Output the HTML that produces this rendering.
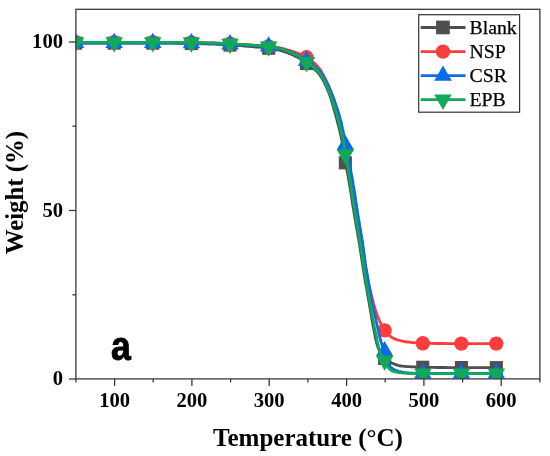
<!DOCTYPE html>
<html><head><meta charset="utf-8"><title>TGA</title>
<style>
html,body{margin:0;padding:0;background:#fff;}
body{width:550px;height:456px;overflow:hidden;}
svg{display:block;}
.tk{font-family:"Liberation Serif",serif;font-weight:bold;font-size:20.6px;fill:#000;}
.ti{font-family:"Liberation Serif",serif;font-weight:bold;font-size:25px;fill:#000;}
.lg{font-family:"Liberation Serif",serif;font-size:19.8px;fill:#000;stroke:#000;stroke-width:0.25px;}
.pa{font-family:"Liberation Sans",sans-serif;font-weight:bold;font-size:41.5px;fill:#000;stroke:#000;stroke-width:0.9px;}
</style></head><body>
<svg width="550" height="456" viewBox="0 0 550 456">
<defs><clipPath id="clip"><rect x="75.9" y="9.3" width="464.0" height="369.6"/></clipPath></defs>
<rect width="550" height="456" fill="#fff"/>
<g clip-path="url(#clip)">
<path d="M76.0 43.1 L77.7 43.1 L79.3 43.1 L81.0 43.1 L82.6 43.1 L84.3 43.1 L85.9 43.1 L87.6 43.1 L89.2 43.1 L90.9 43.1 L92.5 43.1 L94.2 43.1 L95.8 43.1 L97.5 43.1 L99.1 43.1 L100.8 43.1 L102.4 43.1 L104.1 43.1 L105.7 43.1 L107.4 43.1 L109.0 43.1 L110.7 43.1 L112.3 43.1 L114.0 43.1 L115.6 43.1 L117.3 43.1 L118.9 43.1 L120.6 43.1 L122.2 43.1 L123.9 43.1 L125.5 43.1 L127.2 43.1 L128.8 43.1 L130.5 43.1 L132.1 43.1 L133.8 43.1 L135.4 43.1 L137.1 43.1 L138.7 43.1 L140.4 43.1 L142.0 43.1 L143.7 43.1 L145.3 43.1 L147.0 43.1 L148.6 43.1 L150.3 43.1 L151.9 43.1 L153.6 43.1 L155.2 43.1 L156.9 43.1 L158.5 43.1 L160.2 43.1 L161.8 43.1 L163.5 43.1 L165.1 43.1 L166.8 43.2 L168.4 43.2 L170.1 43.2 L171.7 43.2 L173.4 43.2 L175.0 43.3 L176.7 43.3 L178.3 43.3 L180.0 43.3 L181.6 43.3 L183.3 43.4 L184.9 43.4 L186.6 43.4 L188.2 43.4 L189.9 43.5 L191.5 43.5 L193.2 43.5 L194.8 43.6 L196.5 43.6 L198.1 43.6 L199.8 43.7 L201.4 43.8 L203.1 43.8 L204.7 43.9 L206.4 43.9 L208.0 44.0 L209.7 44.0 L211.3 44.1 L212.9 44.2 L214.6 44.2 L216.2 44.3 L217.9 44.4 L219.5 44.4 L221.2 44.5 L222.8 44.6 L224.5 44.7 L226.1 44.8 L227.8 44.9 L229.4 44.9 L231.1 45.0 L232.7 45.1 L234.4 45.3 L236.0 45.4 L237.7 45.5 L239.3 45.6 L241.0 45.7 L242.6 45.9 L244.2 46.0 L245.9 46.2 L247.5 46.3 L249.2 46.4 L250.8 46.6 L252.5 46.7 L254.1 46.8 L255.8 47.0 L257.4 47.1 L259.1 47.2 L260.7 47.3 L262.3 47.5 L264.0 47.6 L265.6 47.8 L267.3 48.0 L268.9 48.2 L270.5 48.4 L272.2 48.7 L273.8 48.9 L275.4 49.3 L277.0 49.6 L278.7 50.0 L280.2 50.4 L281.8 50.8 L283.4 51.3 L285.0 51.8 L286.5 52.4 L288.1 53.0 L289.6 53.6 L291.1 54.3 L292.6 54.9 L294.1 55.6 L295.6 56.4 L297.1 57.1 L298.5 57.9 L299.9 58.8 L301.3 59.6 L302.7 60.6 L304.1 61.5 L305.4 62.5 L306.7 63.5 L308.1 64.4 L309.4 65.4 L310.8 66.4 L312.1 67.4 L313.4 68.4 L314.7 69.5 L315.9 70.6 L317.1 71.7 L318.1 72.9 L319.2 74.2 L320.1 75.5 L321.1 76.9 L321.9 78.3 L322.8 79.7 L323.6 81.2 L324.4 82.7 L325.1 84.1 L325.8 85.6 L326.5 87.1 L327.2 88.6 L327.8 90.2 L328.4 91.7 L329.0 93.2 L329.6 94.8 L330.1 96.3 L330.7 97.9 L331.2 99.5 L331.6 101.1 L332.1 102.6 L332.6 104.2 L333.0 105.8 L333.5 107.4 L333.9 109.0 L334.4 110.6 L334.8 112.2 L335.3 113.8 L335.7 115.4 L336.1 116.9 L336.6 118.5 L337.0 120.1 L337.4 121.7 L337.8 123.3 L338.2 124.9 L338.7 126.5 L339.1 128.1 L339.5 129.7 L339.9 131.3 L340.2 132.9 L340.6 134.5 L341.0 136.1 L341.3 137.8 L341.6 139.4 L342.0 141.0 L342.3 142.6 L342.6 144.2 L342.9 145.9 L343.1 147.5 L343.4 149.1 L343.7 150.7 L344.0 152.4 L344.3 154.0 L344.5 155.6 L344.8 157.3 L345.0 158.9 L345.3 160.5 L345.6 162.1 L345.8 163.8 L346.1 165.4 L346.4 167.0 L346.7 168.6 L347.0 170.3 L347.3 171.9 L347.6 173.5 L347.9 175.1 L348.2 176.8 L348.5 178.4 L348.8 180.0 L349.1 181.6 L349.3 183.3 L349.6 184.9 L349.9 186.5 L350.2 188.1 L350.4 189.8 L350.7 191.4 L350.9 193.0 L351.2 194.7 L351.4 196.3 L351.7 197.9 L351.9 199.6 L352.2 201.2 L352.4 202.8 L352.7 204.4 L352.9 206.1 L353.2 207.7 L353.5 209.3 L353.7 211.0 L354.0 212.6 L354.3 214.2 L354.5 215.9 L354.8 217.5 L355.1 219.1 L355.4 220.7 L355.6 222.4 L355.9 224.0 L356.2 225.6 L356.5 227.2 L356.8 228.9 L357.1 230.5 L357.4 232.1 L357.7 233.7 L357.9 235.4 L358.2 237.0 L358.5 238.6 L358.8 240.2 L359.1 241.9 L359.3 243.5 L359.6 245.1 L359.9 246.7 L360.1 248.4 L360.4 250.0 L360.6 251.6 L360.9 253.3 L361.1 254.9 L361.4 256.5 L361.6 258.2 L361.9 259.8 L362.1 261.4 L362.4 263.1 L362.6 264.7 L362.9 266.3 L363.1 268.0 L363.4 269.6 L363.6 271.2 L363.9 272.8 L364.1 274.5 L364.4 276.1 L364.7 277.7 L365.0 279.4 L365.2 281.0 L365.5 282.6 L365.8 284.2 L366.1 285.9 L366.4 287.5 L366.7 289.1 L367.0 290.7 L367.3 292.4 L367.5 294.0 L367.8 295.6 L368.1 297.2 L368.4 298.9 L368.7 300.5 L369.0 302.1 L369.3 303.7 L369.5 305.4 L369.8 307.0 L370.1 308.6 L370.4 310.2 L370.6 311.9 L370.9 313.5 L371.2 315.1 L371.5 316.8 L371.7 318.4 L372.0 320.0 L372.3 321.6 L372.6 323.2 L372.9 324.9 L373.2 326.5 L373.5 328.1 L373.9 329.7 L374.2 331.4 L374.5 333.0 L374.8 334.6 L375.1 336.3 L375.4 337.9 L375.8 339.5 L376.2 341.1 L376.6 342.7 L377.0 344.3 L377.5 345.8 L378.0 347.4 L378.6 348.9 L379.3 350.5 L380.0 352.0 L380.8 353.4 L381.7 354.8 L382.6 356.1 L383.8 357.4 L385.0 358.5 L386.3 359.5 L387.6 360.5 L389.0 361.4 L390.5 362.2 L391.9 362.9 L393.4 363.6 L395.0 364.2 L396.5 364.9 L398.1 365.4 L399.7 365.8 L401.3 366.0 L402.9 366.2 L404.6 366.3 L406.2 366.5 L407.9 366.6 L409.5 366.7 L411.2 366.8 L412.8 366.8 L414.5 366.9 L416.1 367.0 L417.8 367.1 L419.4 367.2 L421.1 367.2 L422.7 367.3 L424.4 367.3 L426.0 367.3 L427.7 367.4 L429.3 367.4 L431.0 367.4 L432.6 367.4 L434.3 367.4 L435.9 367.5 L437.6 367.5 L439.2 367.5 L440.9 367.5 L442.5 367.5 L444.2 367.5 L445.8 367.5 L447.5 367.6 L449.1 367.6 L450.8 367.6 L452.4 367.6 L454.1 367.6 L455.7 367.6 L457.4 367.6 L459.0 367.6 L460.7 367.6 L462.3 367.6 L464.0 367.6 L465.6 367.6 L467.3 367.6 L468.9 367.6 L470.6 367.6 L472.2 367.6 L473.9 367.6 L475.5 367.6 L477.2 367.6 L478.8 367.6 L480.5 367.6 L482.1 367.6 L483.8 367.6 L485.4 367.6 L487.1 367.6 L488.7 367.6 L490.4 367.6 L492.0 367.6 L493.7 367.6 L495.3 367.6 L497.0 367.6" fill="none" stroke="#4F4F4F" stroke-width="2.8" stroke-linejoin="round"/>
<rect x="69.0" y="36.6" width="13.1" height="13.1" fill="#4F4F4F"/>
<rect x="107.6" y="36.6" width="13.1" height="13.1" fill="#4F4F4F"/>
<rect x="146.2" y="36.6" width="13.1" height="13.1" fill="#4F4F4F"/>
<rect x="184.8" y="37.0" width="13.1" height="13.1" fill="#4F4F4F"/>
<rect x="223.4" y="38.5" width="13.1" height="13.1" fill="#4F4F4F"/>
<rect x="262.1" y="41.7" width="13.1" height="13.1" fill="#4F4F4F"/>
<rect x="299.9" y="57.0" width="13.1" height="13.1" fill="#4F4F4F"/>
<rect x="338.8" y="156.3" width="13.1" height="13.1" fill="#4F4F4F"/>
<rect x="378.1" y="351.9" width="13.1" height="13.1" fill="#4F4F4F"/>
<rect x="416.2" y="360.7" width="13.1" height="13.1" fill="#4F4F4F"/>
<rect x="454.9" y="361.0" width="13.1" height="13.1" fill="#4F4F4F"/>
<rect x="489.8" y="361.1" width="13.1" height="13.1" fill="#4F4F4F"/>
<path d="M76.0 42.3 L77.6 42.3 L79.2 42.3 L80.8 42.3 L82.4 42.3 L84.0 42.3 L85.6 42.3 L87.2 42.3 L88.8 42.3 L90.4 42.3 L92.0 42.3 L93.6 42.3 L95.2 42.3 L96.7 42.3 L98.3 42.3 L99.9 42.3 L101.5 42.3 L103.1 42.3 L104.7 42.3 L106.3 42.3 L107.9 42.3 L109.5 42.3 L111.1 42.3 L112.7 42.3 L114.3 42.3 L115.9 42.3 L117.5 42.3 L119.1 42.3 L120.7 42.3 L122.3 42.3 L123.9 42.3 L125.5 42.3 L127.1 42.3 L128.7 42.3 L130.3 42.3 L131.9 42.3 L133.5 42.3 L135.1 42.3 L136.7 42.3 L138.2 42.3 L139.8 42.3 L141.4 42.3 L143.0 42.3 L144.6 42.3 L146.2 42.3 L147.8 42.3 L149.4 42.3 L151.0 42.3 L152.6 42.3 L154.2 42.3 L155.8 42.3 L157.4 42.3 L159.0 42.3 L160.6 42.3 L162.2 42.3 L163.8 42.3 L165.4 42.3 L167.0 42.3 L168.6 42.3 L170.2 42.3 L171.8 42.4 L173.4 42.4 L175.0 42.4 L176.6 42.4 L178.1 42.4 L179.7 42.4 L181.3 42.4 L182.9 42.4 L184.5 42.4 L186.1 42.5 L187.7 42.5 L189.3 42.5 L190.9 42.5 L192.5 42.5 L194.1 42.5 L195.7 42.5 L197.3 42.6 L198.9 42.6 L200.5 42.6 L202.1 42.7 L203.7 42.7 L205.3 42.7 L206.9 42.8 L208.5 42.8 L210.1 42.9 L211.7 42.9 L213.3 43.0 L214.9 43.0 L216.4 43.1 L218.0 43.2 L219.6 43.2 L221.2 43.3 L222.8 43.4 L224.4 43.5 L226.0 43.6 L227.6 43.7 L229.2 43.7 L230.8 43.8 L232.4 43.9 L234.0 44.0 L235.6 44.1 L237.2 44.2 L238.8 44.3 L240.4 44.4 L241.9 44.5 L243.5 44.6 L245.1 44.7 L246.7 44.8 L248.3 44.9 L249.9 45.0 L251.5 45.1 L253.1 45.2 L254.7 45.3 L256.3 45.4 L257.9 45.5 L259.5 45.6 L261.1 45.7 L262.7 45.8 L264.2 46.0 L265.8 46.1 L267.4 46.2 L269.0 46.4 L270.6 46.6 L272.2 46.8 L273.8 47.0 L275.4 47.2 L276.9 47.5 L278.5 47.7 L280.1 48.0 L281.6 48.3 L283.2 48.7 L284.7 49.1 L286.3 49.5 L287.8 50.0 L289.3 50.4 L290.9 50.9 L292.4 51.3 L293.9 51.8 L295.4 52.4 L296.9 52.9 L298.4 53.5 L299.9 54.1 L301.4 54.7 L302.9 55.3 L304.4 55.9 L305.8 56.7 L307.1 57.4 L308.4 58.3 L309.7 59.2 L311.0 60.2 L312.3 61.2 L313.5 62.3 L314.7 63.4 L315.9 64.6 L317.0 65.7 L318.0 66.9 L319.0 68.1 L320.0 69.4 L320.9 70.6 L321.7 72.0 L322.5 73.4 L323.3 74.8 L324.0 76.2 L324.8 77.7 L325.5 79.1 L326.2 80.6 L326.8 82.0 L327.5 83.4 L328.2 84.9 L328.9 86.4 L329.5 87.8 L330.1 89.3 L330.8 90.8 L331.3 92.2 L331.9 93.7 L332.5 95.2 L333.0 96.7 L333.5 98.2 L334.0 99.8 L334.5 101.3 L334.9 102.8 L335.4 104.3 L335.9 105.9 L336.3 107.4 L336.7 109.0 L337.1 110.5 L337.5 112.0 L337.9 113.6 L338.3 115.1 L338.7 116.7 L339.0 118.2 L339.4 119.8 L339.8 121.4 L340.1 122.9 L340.5 124.5 L340.9 126.0 L341.2 127.6 L341.6 129.1 L342.0 130.7 L342.3 132.2 L342.7 133.8 L343.0 135.3 L343.3 136.9 L343.6 138.5 L343.9 140.0 L344.2 141.6 L344.5 143.2 L344.8 144.7 L345.1 146.3 L345.4 147.9 L345.7 149.5 L346.0 151.0 L346.3 152.6 L346.6 154.2 L346.8 155.7 L347.1 157.3 L347.4 158.9 L347.7 160.5 L348.0 162.0 L348.3 163.6 L348.5 165.2 L348.8 166.7 L349.1 168.3 L349.4 169.9 L349.6 171.5 L349.9 173.0 L350.2 174.6 L350.5 176.2 L350.7 177.7 L351.0 179.3 L351.3 180.9 L351.5 182.5 L351.8 184.0 L352.0 185.6 L352.3 187.2 L352.5 188.8 L352.8 190.3 L353.0 191.9 L353.3 193.5 L353.5 195.1 L353.7 196.7 L354.0 198.2 L354.2 199.8 L354.5 201.4 L354.7 203.0 L354.9 204.5 L355.2 206.1 L355.4 207.7 L355.7 209.3 L355.9 210.9 L356.2 212.4 L356.4 214.0 L356.7 215.6 L356.9 217.2 L357.2 218.7 L357.5 220.3 L357.7 221.9 L358.0 223.5 L358.3 225.0 L358.5 226.6 L358.8 228.2 L359.1 229.7 L359.3 231.3 L359.6 232.9 L359.9 234.5 L360.2 236.0 L360.4 237.6 L360.7 239.2 L361.0 240.8 L361.2 242.3 L361.5 243.9 L361.8 245.5 L362.0 247.1 L362.3 248.6 L362.5 250.2 L362.8 251.8 L363.0 253.4 L363.3 254.9 L363.5 256.5 L363.8 258.1 L364.0 259.7 L364.3 261.3 L364.5 262.8 L364.8 264.4 L365.0 266.0 L365.3 267.6 L365.6 269.1 L365.8 270.7 L366.1 272.3 L366.4 273.8 L366.7 275.4 L367.0 277.0 L367.4 278.5 L367.7 280.1 L368.1 281.6 L368.4 283.2 L368.8 284.7 L369.2 286.3 L369.6 287.8 L370.0 289.4 L370.4 290.9 L370.8 292.5 L371.2 294.0 L371.5 295.6 L371.9 297.1 L372.3 298.7 L372.7 300.2 L373.1 301.8 L373.5 303.3 L374.0 304.9 L374.4 306.4 L374.8 307.9 L375.3 309.5 L375.8 311.0 L376.3 312.5 L376.8 314.0 L377.3 315.5 L377.9 317.0 L378.5 318.5 L379.2 319.9 L379.8 321.4 L380.5 322.8 L381.2 324.2 L382.0 325.7 L382.8 327.1 L383.6 328.4 L384.5 329.8 L385.5 331.0 L386.5 332.3 L387.6 333.5 L388.7 334.7 L389.9 335.9 L391.1 336.9 L392.4 337.7 L393.7 338.4 L395.2 339.0 L396.7 339.6 L398.2 340.1 L399.8 340.5 L401.4 340.9 L402.9 341.2 L404.5 341.5 L406.1 341.8 L407.7 342.0 L409.2 342.2 L410.8 342.4 L412.4 342.6 L414.0 342.7 L415.6 342.9 L417.2 343.0 L418.8 343.1 L420.4 343.2 L422.0 343.3 L423.6 343.3 L425.2 343.3 L426.8 343.4 L428.4 343.4 L430.0 343.4 L431.6 343.4 L433.2 343.4 L434.7 343.5 L436.3 343.5 L437.9 343.5 L439.5 343.5 L441.1 343.5 L442.7 343.5 L444.3 343.5 L445.9 343.6 L447.5 343.6 L449.1 343.6 L450.7 343.6 L452.3 343.6 L453.9 343.6 L455.5 343.6 L457.1 343.6 L458.7 343.6 L460.3 343.6 L461.9 343.6 L463.5 343.6 L465.1 343.6 L466.7 343.6 L468.3 343.6 L469.9 343.6 L471.5 343.6 L473.1 343.6 L474.7 343.6 L476.3 343.6 L477.8 343.6 L479.4 343.6 L481.0 343.6 L482.6 343.6 L484.2 343.6 L485.8 343.6 L487.4 343.6 L489.0 343.6 L490.6 343.6 L492.2 343.6 L493.8 343.6 L495.4 343.6 L497.0 343.6" fill="none" stroke="#FB3D3D" stroke-width="2.8" stroke-linejoin="round"/>
<circle cx="75.6" cy="42.3" r="7.2" fill="#FB3D3D"/>
<circle cx="114.2" cy="42.3" r="7.2" fill="#FB3D3D"/>
<circle cx="152.8" cy="42.3" r="7.2" fill="#FB3D3D"/>
<circle cx="191.4" cy="42.5" r="7.2" fill="#FB3D3D"/>
<circle cx="230.0" cy="43.8" r="7.2" fill="#FB3D3D"/>
<circle cx="268.6" cy="46.4" r="7.2" fill="#FB3D3D"/>
<circle cx="306.5" cy="57.3" r="7.2" fill="#FB3D3D"/>
<circle cx="345.3" cy="149.5" r="7.2" fill="#FB3D3D"/>
<circle cx="384.6" cy="330.4" r="7.2" fill="#FB3D3D"/>
<circle cx="422.8" cy="343.3" r="7.2" fill="#FB3D3D"/>
<circle cx="461.4" cy="343.6" r="7.2" fill="#FB3D3D"/>
<circle cx="496.3" cy="343.6" r="7.2" fill="#FB3D3D"/>
<path d="M76.0 43.0 L77.7 43.0 L79.3 43.0 L81.0 43.0 L82.7 43.0 L84.3 43.0 L86.0 43.0 L87.7 43.0 L89.3 43.0 L91.0 43.0 L92.6 43.0 L94.3 43.0 L96.0 43.0 L97.6 43.0 L99.3 43.0 L101.0 43.0 L102.6 43.0 L104.3 43.0 L106.0 43.0 L107.6 43.0 L109.3 43.0 L111.0 43.0 L112.6 43.0 L114.3 43.0 L115.9 43.0 L117.6 43.0 L119.3 43.0 L120.9 43.0 L122.6 43.0 L124.3 43.0 L125.9 43.0 L127.6 43.0 L129.3 43.0 L130.9 43.0 L132.6 43.0 L134.3 43.0 L135.9 43.0 L137.6 43.0 L139.3 43.0 L140.9 43.0 L142.6 43.0 L144.2 43.0 L145.9 43.0 L147.6 43.0 L149.2 43.0 L150.9 43.0 L152.6 43.0 L154.2 43.0 L155.9 43.0 L157.6 43.0 L159.2 43.0 L160.9 43.0 L162.6 43.0 L164.2 43.0 L165.9 43.0 L167.5 43.0 L169.2 43.0 L170.9 43.0 L172.5 43.0 L174.2 43.0 L175.9 43.0 L177.5 43.0 L179.2 43.0 L180.9 43.1 L182.5 43.1 L184.2 43.1 L185.9 43.1 L187.5 43.1 L189.2 43.1 L190.8 43.1 L192.5 43.2 L194.2 43.2 L195.8 43.2 L197.5 43.2 L199.2 43.3 L200.8 43.3 L202.5 43.4 L204.2 43.4 L205.8 43.5 L207.5 43.5 L209.2 43.5 L210.8 43.6 L212.5 43.6 L214.1 43.7 L215.8 43.7 L217.5 43.8 L219.1 43.9 L220.8 43.9 L222.5 44.0 L224.1 44.0 L225.8 44.1 L227.5 44.2 L229.1 44.2 L230.8 44.3 L232.4 44.4 L234.1 44.5 L235.8 44.5 L237.4 44.6 L239.1 44.7 L240.8 44.8 L242.4 44.9 L244.1 45.0 L245.7 45.1 L247.4 45.2 L249.1 45.2 L250.7 45.3 L252.4 45.4 L254.1 45.5 L255.7 45.6 L257.4 45.7 L259.1 45.8 L260.7 45.9 L262.4 46.0 L264.0 46.1 L265.7 46.2 L267.3 46.3 L269.0 46.5 L270.6 46.7 L272.3 46.9 L273.9 47.2 L275.6 47.5 L277.2 47.9 L278.8 48.2 L280.5 48.6 L282.1 49.0 L283.7 49.5 L285.3 50.0 L286.8 50.5 L288.4 51.1 L290.0 51.7 L291.5 52.3 L293.1 52.9 L294.6 53.6 L296.1 54.3 L297.6 55.0 L299.1 55.7 L300.5 56.6 L301.9 57.4 L303.3 58.3 L304.7 59.3 L306.1 60.2 L307.5 61.2 L308.8 62.1 L310.2 63.1 L311.6 64.1 L313.0 65.1 L314.4 66.1 L315.7 67.1 L316.9 68.2 L318.1 69.3 L319.2 70.5 L320.2 71.7 L321.2 73.1 L322.1 74.4 L323.0 75.9 L323.9 77.3 L324.7 78.8 L325.5 80.3 L326.3 81.7 L327.1 83.2 L327.8 84.7 L328.5 86.2 L329.2 87.7 L329.8 89.3 L330.5 90.8 L331.1 92.4 L331.7 93.9 L332.4 95.5 L333.0 97.0 L333.6 98.6 L334.2 100.1 L334.7 101.7 L335.3 103.2 L335.9 104.8 L336.4 106.4 L336.9 108.0 L337.5 109.5 L338.0 111.1 L338.5 112.7 L339.0 114.3 L339.4 115.9 L339.9 117.5 L340.3 119.1 L340.8 120.7 L341.2 122.3 L341.6 123.9 L341.9 125.6 L342.3 127.2 L342.6 128.8 L343.0 130.4 L343.3 132.1 L343.6 133.7 L343.9 135.4 L344.2 137.0 L344.5 138.6 L344.8 140.3 L345.1 141.9 L345.4 143.5 L345.7 145.2 L346.1 146.8 L346.4 148.4 L346.7 150.1 L347.0 151.7 L347.3 153.3 L347.7 155.0 L348.0 156.6 L348.3 158.2 L348.6 159.9 L349.0 161.5 L349.3 163.1 L349.6 164.8 L349.9 166.4 L350.2 168.0 L350.5 169.7 L350.9 171.3 L351.2 173.0 L351.5 174.6 L351.8 176.2 L352.1 177.9 L352.4 179.5 L352.7 181.1 L353.0 182.8 L353.2 184.4 L353.5 186.1 L353.8 187.7 L354.0 189.3 L354.3 191.0 L354.6 192.6 L354.8 194.3 L355.1 195.9 L355.3 197.6 L355.6 199.2 L355.8 200.9 L356.1 202.5 L356.3 204.2 L356.5 205.8 L356.8 207.4 L357.0 209.1 L357.3 210.7 L357.6 212.4 L357.8 214.0 L358.1 215.7 L358.4 217.3 L358.6 219.0 L358.9 220.6 L359.2 222.2 L359.5 223.9 L359.7 225.5 L360.0 227.2 L360.3 228.8 L360.6 230.4 L360.8 232.1 L361.1 233.7 L361.4 235.4 L361.7 237.0 L361.9 238.7 L362.2 240.3 L362.5 241.9 L362.7 243.6 L362.9 245.2 L363.2 246.9 L363.4 248.5 L363.6 250.2 L363.8 251.8 L364.0 253.5 L364.2 255.1 L364.5 256.8 L364.7 258.4 L364.9 260.1 L365.2 261.7 L365.4 263.4 L365.7 265.0 L365.9 266.7 L366.2 268.3 L366.5 269.9 L366.7 271.6 L367.0 273.2 L367.3 274.9 L367.6 276.5 L367.9 278.2 L368.2 279.8 L368.4 281.4 L368.7 283.1 L369.0 284.7 L369.3 286.4 L369.6 288.0 L369.9 289.6 L370.2 291.3 L370.5 292.9 L370.7 294.6 L371.0 296.2 L371.3 297.8 L371.6 299.5 L371.9 301.1 L372.2 302.7 L372.6 304.4 L372.9 306.0 L373.2 307.6 L373.6 309.3 L373.9 310.9 L374.3 312.5 L374.7 314.1 L375.0 315.8 L375.4 317.4 L375.8 319.0 L376.1 320.6 L376.5 322.3 L376.8 323.9 L377.2 325.5 L377.5 327.1 L377.9 328.8 L378.2 330.4 L378.6 332.0 L378.9 333.7 L379.3 335.3 L379.7 336.9 L380.1 338.5 L380.6 340.1 L381.0 341.7 L381.5 343.3 L382.1 344.9 L382.7 346.4 L383.4 347.9 L384.2 349.4 L384.9 350.9 L385.4 352.5 L385.8 354.1 L386.2 355.7 L386.5 357.3 L387.0 358.9 L387.5 360.6 L388.0 362.3 L388.6 363.9 L389.2 365.3 L390.1 366.5 L391.3 367.7 L392.7 368.7 L394.2 369.6 L395.8 370.3 L397.3 370.8 L398.8 371.3 L400.4 371.7 L402.1 372.1 L403.7 372.4 L405.4 372.6 L407.1 372.8 L408.8 373.0 L410.4 373.1 L412.1 373.1 L413.8 373.2 L415.4 373.3 L417.1 373.3 L418.8 373.3 L420.4 373.4 L422.1 373.4 L423.8 373.4 L425.4 373.4 L427.1 373.4 L428.8 373.4 L430.4 373.4 L432.1 373.4 L433.7 373.4 L435.4 373.5 L437.1 373.5 L438.7 373.5 L440.4 373.5 L442.1 373.5 L443.7 373.5 L445.4 373.5 L447.1 373.5 L448.7 373.5 L450.4 373.5 L452.1 373.5 L453.7 373.5 L455.4 373.5 L457.1 373.5 L458.7 373.5 L460.4 373.5 L462.0 373.5 L463.7 373.5 L465.4 373.5 L467.0 373.5 L468.7 373.5 L470.4 373.5 L472.0 373.5 L473.7 373.5 L475.4 373.5 L477.0 373.5 L478.7 373.5 L480.4 373.5 L482.0 373.5 L483.7 373.5 L485.3 373.5 L487.0 373.5 L488.7 373.5 L490.3 373.5 L492.0 373.5 L493.7 373.5 L495.3 373.5 L497.0 373.5" fill="none" stroke="#0C6CE8" stroke-width="2.8" stroke-linejoin="round"/>
<path d="M75.6 32.8 L84.3 48.1 L66.8 48.1 Z" fill="#0C6CE8"/>
<path d="M114.2 32.8 L122.9 48.1 L105.4 48.1 Z" fill="#0C6CE8"/>
<path d="M152.8 32.8 L161.5 48.1 L144.0 48.1 Z" fill="#0C6CE8"/>
<path d="M191.4 33.0 L200.2 48.3 L182.7 48.3 Z" fill="#0C6CE8"/>
<path d="M230.0 34.1 L238.8 49.4 L221.2 49.4 Z" fill="#0C6CE8"/>
<path d="M268.6 36.3 L277.4 51.6 L259.9 51.6 Z" fill="#0C6CE8"/>
<path d="M306.5 50.6 L315.2 65.9 L297.8 65.9 Z" fill="#0C6CE8"/>
<path d="M345.3 134.8 L354.1 150.1 L336.6 150.1 Z" fill="#0C6CE8"/>
<path d="M384.6 341.0 L393.4 356.3 L375.9 356.3 Z" fill="#0C6CE8"/>
<path d="M422.8 363.2 L431.6 378.5 L414.1 378.5 Z" fill="#0C6CE8"/>
<path d="M461.4 363.3 L470.2 378.6 L452.7 378.6 Z" fill="#0C6CE8"/>
<path d="M496.3 363.3 L505.1 378.6 L487.6 378.6 Z" fill="#0C6CE8"/>
<path d="M76.0 42.3 L77.7 42.3 L79.3 42.3 L81.0 42.3 L82.7 42.3 L84.3 42.3 L86.0 42.3 L87.7 42.3 L89.4 42.3 L91.0 42.3 L92.7 42.3 L94.4 42.3 L96.0 42.3 L97.7 42.3 L99.4 42.3 L101.0 42.3 L102.7 42.3 L104.4 42.3 L106.0 42.3 L107.7 42.3 L109.4 42.3 L111.0 42.3 L112.7 42.3 L114.4 42.3 L116.1 42.3 L117.7 42.3 L119.4 42.3 L121.1 42.3 L122.7 42.3 L124.4 42.3 L126.1 42.3 L127.7 42.3 L129.4 42.3 L131.1 42.3 L132.7 42.3 L134.4 42.3 L136.1 42.3 L137.8 42.3 L139.4 42.3 L141.1 42.3 L142.8 42.3 L144.4 42.3 L146.1 42.3 L147.8 42.3 L149.4 42.3 L151.1 42.3 L152.8 42.3 L154.4 42.3 L156.1 42.3 L157.8 42.3 L159.5 42.3 L161.1 42.3 L162.8 42.3 L164.5 42.3 L166.1 42.3 L167.8 42.3 L169.5 42.3 L171.1 42.3 L172.8 42.4 L174.5 42.4 L176.1 42.4 L177.8 42.4 L179.5 42.4 L181.1 42.4 L182.8 42.4 L184.5 42.4 L186.2 42.5 L187.8 42.5 L189.5 42.5 L191.2 42.5 L192.8 42.5 L194.5 42.5 L196.2 42.6 L197.8 42.6 L199.5 42.6 L201.2 42.6 L202.8 42.7 L204.5 42.7 L206.2 42.8 L207.8 42.8 L209.5 42.9 L211.2 42.9 L212.9 43.0 L214.5 43.0 L216.2 43.1 L217.9 43.2 L219.5 43.2 L221.2 43.3 L222.9 43.4 L224.5 43.5 L226.2 43.6 L227.9 43.7 L229.5 43.8 L231.2 43.8 L232.9 43.9 L234.5 44.0 L236.2 44.1 L237.9 44.2 L239.5 44.3 L241.2 44.4 L242.9 44.5 L244.5 44.6 L246.2 44.7 L247.9 44.9 L249.5 45.0 L251.2 45.1 L252.8 45.2 L254.5 45.3 L256.2 45.4 L257.9 45.6 L259.5 45.7 L261.2 45.8 L262.8 46.0 L264.5 46.1 L266.2 46.3 L267.8 46.5 L269.5 46.7 L271.1 46.9 L272.8 47.2 L274.4 47.5 L276.0 47.9 L277.7 48.2 L279.3 48.6 L280.9 49.0 L282.5 49.5 L284.1 50.0 L285.7 50.6 L287.3 51.1 L288.8 51.7 L290.4 52.3 L291.9 53.0 L293.4 53.7 L294.9 54.4 L296.4 55.2 L297.9 56.0 L299.3 56.8 L300.8 57.7 L302.2 58.6 L303.5 59.5 L304.9 60.5 L306.2 61.5 L307.6 62.5 L308.9 63.5 L310.3 64.5 L311.6 65.5 L313.0 66.6 L314.3 67.7 L315.5 68.8 L316.7 69.9 L317.8 71.1 L318.9 72.3 L319.9 73.6 L320.9 75.0 L321.8 76.4 L322.7 77.8 L323.5 79.3 L324.3 80.8 L325.1 82.3 L325.8 83.7 L326.5 85.3 L327.2 86.8 L327.8 88.3 L328.4 89.9 L329.0 91.5 L329.6 93.0 L330.2 94.6 L330.8 96.1 L331.4 97.7 L332.0 99.3 L332.5 100.9 L333.1 102.4 L333.6 104.0 L334.1 105.6 L334.6 107.2 L335.1 108.8 L335.6 110.4 L336.1 112.0 L336.5 113.6 L337.0 115.2 L337.4 116.8 L337.8 118.4 L338.3 120.0 L338.7 121.6 L339.1 123.3 L339.5 124.9 L340.0 126.5 L340.4 128.1 L340.8 129.7 L341.2 131.3 L341.6 133.0 L342.0 134.6 L342.4 136.2 L342.7 137.8 L343.0 139.5 L343.4 141.1 L343.7 142.8 L344.0 144.4 L344.3 146.0 L344.5 147.7 L344.8 149.3 L345.1 151.0 L345.4 152.6 L345.7 154.3 L345.9 155.9 L346.2 157.6 L346.5 159.2 L346.8 160.9 L347.1 162.5 L347.3 164.1 L347.6 165.8 L347.9 167.4 L348.2 169.1 L348.4 170.7 L348.7 172.4 L349.0 174.0 L349.2 175.7 L349.5 177.3 L349.8 179.0 L350.0 180.6 L350.3 182.3 L350.6 183.9 L350.8 185.6 L351.1 187.2 L351.3 188.9 L351.6 190.5 L351.8 192.2 L352.1 193.8 L352.3 195.5 L352.6 197.1 L352.8 198.8 L353.1 200.4 L353.3 202.1 L353.6 203.7 L353.9 205.4 L354.1 207.0 L354.4 208.7 L354.6 210.3 L354.9 212.0 L355.1 213.6 L355.4 215.3 L355.7 216.9 L356.0 218.5 L356.2 220.2 L356.5 221.8 L356.8 223.5 L357.1 225.1 L357.4 226.8 L357.7 228.4 L357.9 230.1 L358.2 231.7 L358.5 233.3 L358.8 235.0 L359.1 236.6 L359.4 238.3 L359.6 239.9 L359.9 241.6 L360.2 243.2 L360.5 244.9 L360.7 246.5 L361.0 248.2 L361.3 249.8 L361.5 251.5 L361.8 253.1 L362.0 254.8 L362.3 256.4 L362.5 258.1 L362.8 259.7 L363.0 261.4 L363.3 263.0 L363.5 264.7 L363.8 266.3 L364.0 268.0 L364.3 269.6 L364.5 271.3 L364.8 272.9 L365.1 274.6 L365.3 276.2 L365.6 277.8 L365.9 279.5 L366.2 281.1 L366.5 282.8 L366.7 284.4 L367.0 286.1 L367.3 287.7 L367.6 289.4 L367.9 291.0 L368.2 292.6 L368.5 294.3 L368.8 295.9 L369.1 297.6 L369.4 299.2 L369.7 300.9 L369.9 302.5 L370.2 304.1 L370.5 305.8 L370.8 307.4 L371.1 309.1 L371.4 310.7 L371.6 312.4 L371.9 314.0 L372.2 315.7 L372.5 317.3 L372.8 318.9 L373.2 320.6 L373.5 322.2 L373.8 323.9 L374.1 325.5 L374.4 327.1 L374.8 328.8 L375.1 330.4 L375.4 332.0 L375.8 333.7 L376.1 335.3 L376.5 336.9 L376.8 338.6 L377.1 340.2 L377.5 341.9 L377.8 343.5 L378.2 345.1 L378.5 346.8 L378.9 348.4 L379.4 350.0 L379.8 351.6 L380.3 353.2 L380.9 354.9 L381.5 356.5 L382.3 357.9 L383.2 359.2 L384.6 360.1 L385.6 361.4 L386.3 362.9 L386.9 364.6 L387.5 366.2 L388.3 367.6 L389.4 368.8 L390.7 370.0 L392.1 370.9 L393.6 371.4 L395.2 371.8 L396.8 372.2 L398.5 372.5 L400.2 372.7 L401.9 372.9 L403.5 373.1 L405.2 373.2 L406.9 373.3 L408.5 373.4 L410.2 373.4 L411.9 373.5 L413.5 373.5 L415.2 373.6 L416.9 373.6 L418.6 373.7 L420.2 373.7 L421.9 373.7 L423.6 373.7 L425.2 373.7 L426.9 373.7 L428.6 373.7 L430.2 373.7 L431.9 373.7 L433.6 373.7 L435.2 373.7 L436.9 373.7 L438.6 373.7 L440.3 373.7 L441.9 373.7 L443.6 373.7 L445.3 373.7 L446.9 373.7 L448.6 373.7 L450.3 373.7 L451.9 373.7 L453.6 373.7 L455.3 373.7 L456.9 373.7 L458.6 373.7 L460.3 373.7 L462.0 373.7 L463.6 373.7 L465.3 373.7 L467.0 373.7 L468.6 373.7 L470.3 373.7 L472.0 373.7 L473.6 373.7 L475.3 373.7 L477.0 373.7 L478.6 373.7 L480.3 373.7 L482.0 373.7 L483.6 373.7 L485.3 373.7 L487.0 373.7 L488.7 373.7 L490.3 373.7 L492.0 373.7 L493.7 373.7 L495.3 373.7 L497.0 373.7" fill="none" stroke="#12A85A" stroke-width="2.8" stroke-linejoin="round"/>
<path d="M75.6 52.5 L84.3 37.2 L66.8 37.2 Z" fill="#12A85A"/>
<path d="M114.2 52.5 L122.9 37.2 L105.4 37.2 Z" fill="#12A85A"/>
<path d="M152.8 52.5 L161.5 37.2 L144.0 37.2 Z" fill="#12A85A"/>
<path d="M191.4 52.7 L200.2 37.4 L182.7 37.4 Z" fill="#12A85A"/>
<path d="M230.0 54.0 L238.8 38.7 L221.2 38.7 Z" fill="#12A85A"/>
<path d="M268.6 56.8 L277.4 41.5 L259.9 41.5 Z" fill="#12A85A"/>
<path d="M306.5 72.2 L315.2 56.9 L297.8 56.9 Z" fill="#12A85A"/>
<path d="M345.3 164.7 L354.1 149.4 L336.6 149.4 Z" fill="#12A85A"/>
<path d="M384.6 370.8 L393.4 355.5 L375.9 355.5 Z" fill="#12A85A"/>
<path d="M422.8 383.9 L431.6 368.6 L414.1 368.6 Z" fill="#12A85A"/>
<path d="M461.4 383.9 L470.2 368.6 L452.7 368.6 Z" fill="#12A85A"/>
<path d="M496.3 383.9 L505.1 368.6 L487.6 368.6 Z" fill="#12A85A"/>
</g>
<rect x="75.9" y="9.3" width="464.0" height="369.6" fill="none" stroke="#333" stroke-width="1.25"/>
<line x1="75.9" y1="378.9" x2="75.9" y2="382.4" stroke="#333" stroke-width="1.25"/>
<line x1="114.6" y1="378.9" x2="114.6" y2="385.9" stroke="#333" stroke-width="1.25"/>
<text x="114.6" y="407.4" class="tk" text-anchor="middle">100</text>
<line x1="153.2" y1="378.9" x2="153.2" y2="382.4" stroke="#333" stroke-width="1.25"/>
<line x1="191.9" y1="378.9" x2="191.9" y2="385.9" stroke="#333" stroke-width="1.25"/>
<text x="191.9" y="407.4" class="tk" text-anchor="middle">200</text>
<line x1="230.6" y1="378.9" x2="230.6" y2="382.4" stroke="#333" stroke-width="1.25"/>
<line x1="269.2" y1="378.9" x2="269.2" y2="385.9" stroke="#333" stroke-width="1.25"/>
<text x="269.2" y="407.4" class="tk" text-anchor="middle">300</text>
<line x1="307.9" y1="378.9" x2="307.9" y2="382.4" stroke="#333" stroke-width="1.25"/>
<line x1="346.6" y1="378.9" x2="346.6" y2="385.9" stroke="#333" stroke-width="1.25"/>
<text x="346.6" y="407.4" class="tk" text-anchor="middle">400</text>
<line x1="385.2" y1="378.9" x2="385.2" y2="382.4" stroke="#333" stroke-width="1.25"/>
<line x1="423.9" y1="378.9" x2="423.9" y2="385.9" stroke="#333" stroke-width="1.25"/>
<text x="423.9" y="407.4" class="tk" text-anchor="middle">500</text>
<line x1="462.6" y1="378.9" x2="462.6" y2="382.4" stroke="#333" stroke-width="1.25"/>
<line x1="501.2" y1="378.9" x2="501.2" y2="385.9" stroke="#333" stroke-width="1.25"/>
<text x="501.2" y="407.4" class="tk" text-anchor="middle">600</text>
<line x1="539.9" y1="378.9" x2="539.9" y2="382.4" stroke="#333" stroke-width="1.25"/>
<line x1="68.9" y1="379.0" x2="75.9" y2="379.0" stroke="#333" stroke-width="1.25"/>
<text x="63" y="385.3" class="tk" text-anchor="end">0</text>
<line x1="72.4" y1="294.8" x2="75.9" y2="294.8" stroke="#333" stroke-width="1.25"/>
<line x1="68.9" y1="210.5" x2="75.9" y2="210.5" stroke="#333" stroke-width="1.25"/>
<text x="63" y="216.8" class="tk" text-anchor="end">50</text>
<line x1="72.4" y1="126.2" x2="75.9" y2="126.2" stroke="#333" stroke-width="1.25"/>
<line x1="68.9" y1="42.0" x2="75.9" y2="42.0" stroke="#333" stroke-width="1.25"/>
<text x="63" y="48.3" class="tk" text-anchor="end">100</text>
<rect x="418.7" y="14.7" width="100.9" height="97.5" fill="#fff" stroke="#333" stroke-width="1.2"/>
<line x1="420.7" y1="27.5" x2="465.5" y2="27.5" stroke="#4F4F4F" stroke-width="2.8"/>
<rect x="436.1" y="20.6" width="13.7" height="13.7" fill="#4F4F4F"/>
<text x="469.5" y="34.0" class="lg">Blank</text>
<line x1="420.7" y1="51.6" x2="465.5" y2="51.6" stroke="#FB3D3D" stroke-width="2.8"/>
<circle cx="443.0" cy="51.6" r="7.2" fill="#FB3D3D"/>
<text x="469.5" y="58.1" class="lg">NSP</text>
<line x1="420.7" y1="75.6" x2="465.5" y2="75.6" stroke="#0C6CE8" stroke-width="2.8"/>
<path d="M443.0 65.4 L451.8 80.7 L434.2 80.7 Z" fill="#0C6CE8"/>
<text x="469.5" y="82.1" class="lg">CSR</text>
<line x1="420.7" y1="99.7" x2="465.5" y2="99.7" stroke="#12A85A" stroke-width="2.8"/>
<path d="M443.0 109.9 L451.8 94.6 L434.2 94.6 Z" fill="#12A85A"/>
<text x="469.5" y="106.2" class="lg">EPB</text>
<text x="308" y="446" class="ti" text-anchor="middle">Temperature (°C)</text>
<text transform="translate(23.3,192.6) rotate(-90)" class="ti" style="font-size:24.8px" text-anchor="middle">Weight (%)</text>
<text transform="translate(111.0,359.7) scale(0.86,1)" class="pa">a</text>
</svg>
</body></html>
